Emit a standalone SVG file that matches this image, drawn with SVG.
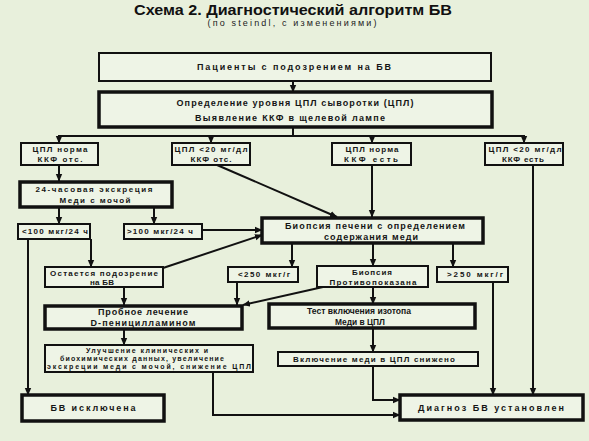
<svg xmlns="http://www.w3.org/2000/svg" width="589" height="441" viewBox="0 0 589 441">
<defs>
<marker id="ah" markerWidth="8" markerHeight="8" refX="7" refY="4" orient="auto" markerUnits="userSpaceOnUse">
<path d="M0,0.8 L7.5,4 L0,7.2 Z" fill="#111"/>
</marker>
</defs>
<style>
.bg{fill:#e8f0dc}
.box{fill:#eef4e6;stroke:#111;stroke-width:2}
.thick{fill:#eef4e6;stroke:#111;stroke-width:3.5}
.t{font-family:"Liberation Sans",Arial,sans-serif;font-size:9px;font-weight:bold;fill:#151515;text-anchor:middle}
.s{font-size:8px}
.xs{font-size:7px}
.ti{font-family:"Liberation Sans",Arial,sans-serif;font-size:14.5px;font-weight:bold;fill:#111;text-anchor:middle}
.sub{font-family:"Liberation Sans",Arial,sans-serif;font-size:9px;fill:#222;text-anchor:middle}
.c{fill:none;stroke:#111;stroke-width:2}
.ca{fill:none;stroke:#111;stroke-width:2;marker-end:url(#ah)}
</style>
<rect class="bg" x="0" y="0" width="589" height="441"/>
<text class="ti" x="293" y="15" textLength="318" lengthAdjust="spacingAndGlyphs">Схема 2. Диагностический алгоритм БВ</text>
<text class="sub" x="292" y="26" textLength="169" lengthAdjust="spacing">(по steindl, с изменениями)</text>

<g id="connectors">
<path class="ca" d="M293 81 V92"/>
<path class="c" d="M293 127 V136"/>
<path class="c" d="M58 136 H525"/>
<path class="ca" d="M59 136 V143"/>
<path class="ca" d="M211 136 V143"/>
<path class="ca" d="M372 136 V143"/>
<path class="ca" d="M524 136 V143"/>
<path class="ca" d="M59 165 V181"/>
<path class="ca" d="M59 207 V224"/>
<path class="ca" d="M154 207 V224"/>
<path class="ca" d="M202 230 H262"/>
<path class="ca" d="M217 165 L337 217"/>
<path class="ca" d="M372 165 V217"/>
<path class="ca" d="M533 165 V395"/>
<path class="ca" d="M28 239 V395"/>
<path class="ca" d="M91 239 V267"/>
<path class="ca" d="M163 268 L262 235"/>
<path class="ca" d="M292 243 V267"/>
<path class="ca" d="M373 243 V266"/>
<path class="ca" d="M453 243 V267"/>
<path class="ca" d="M493 282 V395"/>
<path class="ca" d="M237 282 V305"/>
<path class="ca" d="M323 287 L243 305"/>
<path class="ca" d="M373 287 V304"/>
<path class="ca" d="M124 287 V305"/>
<path class="ca" d="M124 329 V345"/>
<path class="ca" d="M373 328 V352"/>
<path class="ca" d="M213 372 V415 H400"/>
<path class="ca" d="M373 366 V400 H400"/>
</g>

<g id="n-patients">
<rect class="box" x="99" y="53" width="392" height="28"/>
<text class="t" x="294" y="70" textLength="194" lengthAdjust="spacing">Пациенты с подозрением на БВ</text>
</g>
<g id="n-cpl">
<rect class="thick" x="99" y="92" width="393" height="35"/>
<text class="t" x="295" y="106" textLength="237" lengthAdjust="spacing">Определение уровня ЦПЛ сыворотки (ЦПЛ)</text>
<text class="t" x="290" y="121" textLength="190" lengthAdjust="spacing">Выявление ККФ в щелевой лампе</text>
</g>
<g id="n-a">
<rect class="box" x="21" y="143" width="77" height="22"/>
<text class="t s" x="60" y="152" textLength="55" lengthAdjust="spacing">ЦПЛ норма</text>
<text class="t s" x="60" y="162" textLength="45" lengthAdjust="spacing">ККФ отс.</text>
</g>
<g id="n-b">
<rect class="box" x="172" y="143" width="78" height="22"/>
<text class="t s" x="211" y="152" textLength="73" lengthAdjust="spacing">ЦПЛ &lt;20 мг/дл</text>
<text class="t s" x="211" y="162" textLength="41" lengthAdjust="spacing">ККФ отс.</text>
</g>
<g id="n-c">
<rect class="box" x="332" y="143" width="79" height="22"/>
<text class="t s" x="372" y="152" textLength="53" lengthAdjust="spacing">ЦПЛ норма</text>
<text class="t s" x="371" y="162" textLength="54" lengthAdjust="spacing">ККФ есть</text>
</g>
<g id="n-d">
<rect class="box" x="485" y="143" width="78" height="22"/>
<text class="t s" x="525" y="152" textLength="73" lengthAdjust="spacing">ЦПЛ &lt;20 мг/дл</text>
<text class="t s" x="523" y="162" textLength="42" lengthAdjust="spacing">ККФ есть</text>
</g>
<g id="n-excr">
<rect class="thick" x="20" y="182" width="152" height="25"/>
<text class="t s" x="94" y="192" textLength="117" lengthAdjust="spacing">24-часовая экскреция</text>
<text class="t s" x="95" y="203" textLength="71" lengthAdjust="spacing">Меди с мочой</text>
</g>
<g id="n-lt100">
<rect class="box" x="18" y="224" width="72" height="15"/>
<text class="t s" x="55" y="234" textLength="66" lengthAdjust="spacing">&lt;100 мкг/24 ч</text>
</g>
<g id="n-gt100">
<rect class="box" x="124" y="224" width="78" height="15"/>
<text class="t s" x="160" y="234" textLength="66" lengthAdjust="spacing">&gt;100 мкг/24 ч</text>
</g>
<g id="n-biopsy">
<rect class="thick" x="262" y="218" width="221" height="25"/>
<text class="t" x="375" y="229" textLength="180" lengthAdjust="spacing">Биопсия печени с определением</text>
<text class="t" x="371" y="240" textLength="94" lengthAdjust="spacing">содержания меди</text>
</g>
<g id="n-suspect">
<rect class="box" x="45" y="267" width="118" height="20"/>
<text class="t s" x="104" y="276" textLength="108" lengthAdjust="spacing">Остается подозрение</text>
<text class="t s" x="102" y="285" textLength="24" lengthAdjust="spacing">на БВ</text>
</g>
<g id="n-lt250">
<rect class="box" x="228" y="267" width="70" height="15"/>
<text class="t s" x="264" y="277" textLength="52" lengthAdjust="spacing">&lt;250 мкг/г</text>
</g>
<g id="n-contra">
<rect class="box" x="317" y="266" width="111" height="21"/>
<text class="t s" x="372" y="275" textLength="40" lengthAdjust="spacing">Биопсия</text>
<text class="t s" x="373" y="285" textLength="87" lengthAdjust="spacing">Противопоказана</text>
</g>
<g id="n-gt250">
<rect class="box" x="437" y="267" width="71" height="15"/>
<text class="t s" x="475" y="277" textLength="56" lengthAdjust="spacing">&gt;250 мкг/г</text>
</g>
<g id="n-trial">
<rect class="thick" x="45" y="306" width="197" height="23"/>
<text class="t" x="143" y="315" textLength="90" lengthAdjust="spacing">Пробное лечение</text>
<text class="t" x="143" y="326" textLength="105" lengthAdjust="spacing">D-пеницилламином</text>
</g>
<g id="n-test">
<rect class="thick" x="269" y="304" width="206" height="24"/>
<text class="t" x="359" y="314" textLength="104" lengthAdjust="spacingAndGlyphs">Тест включения изотопа</text>
<text class="t" x="360" y="325" textLength="50" lengthAdjust="spacingAndGlyphs">Меди в ЦПЛ</text>
</g>
<g id="n-improve">
<rect class="box" x="45" y="345" width="208" height="27"/>
<text class="t xs" x="147" y="353" textLength="122" lengthAdjust="spacing">Улучшение клинических и</text>
<text class="t xs" x="142" y="361" textLength="164" lengthAdjust="spacing">биохимических данных, увеличение</text>
<text class="t xs" x="149" y="369" textLength="204" lengthAdjust="spacing">экскреции меди с мочой, снижение ЦПЛ</text>
</g>
<g id="n-incl">
<rect class="box" x="278" y="352" width="200" height="14"/>
<text class="t s" x="374" y="362" textLength="162" lengthAdjust="spacing">Включение меди в ЦПЛ снижено</text>
</g>
<g id="n-excluded">
<rect class="thick" x="22" y="395" width="142" height="26"/>
<text class="t" x="93" y="411" textLength="85" lengthAdjust="spacing">БВ исключена</text>
</g>
<g id="n-diag">
<rect class="thick" x="400" y="395" width="183" height="25"/>
<text class="t" x="491" y="411" textLength="146" lengthAdjust="spacing">Диагноз БВ установлен</text>
</g>
</svg>
